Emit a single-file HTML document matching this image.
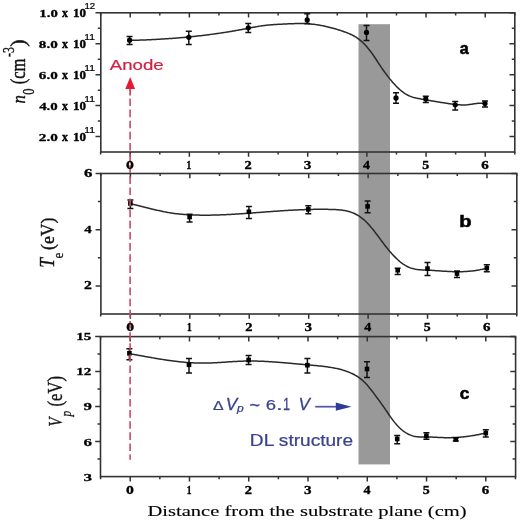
<!DOCTYPE html>
<html><head><meta charset="utf-8"><style>
html,body{margin:0;padding:0;background:#fff;}
svg{display:block;}
#w{width:520px;height:523px;}
</style></head><body>
<div id="w"><svg width="520" height="523" viewBox="0 0 520 523">
<rect width="520" height="523" fill="#fff"/>
<rect x="358.5" y="24.2" width="31.5" height="440.2" fill="#999"/>
<rect x="100.8" y="12.8" width="414.00" height="139.20" fill="none" stroke="#333" stroke-width="1.6"/>
<path d="M100.61,12.8v2.6 M100.61,152.0v2.6 M130.20,12.8v4.8 M130.20,152.0v4.8 M159.78,12.8v2.6 M159.78,152.0v2.6 M189.37,12.8v4.8 M189.37,152.0v4.8 M218.95,12.8v2.6 M218.95,152.0v2.6 M248.54,12.8v4.8 M248.54,152.0v4.8 M278.12,12.8v2.6 M278.12,152.0v2.6 M307.71,12.8v4.8 M307.71,152.0v4.8 M337.29,12.8v2.6 M337.29,152.0v2.6 M366.88,12.8v4.8 M366.88,152.0v4.8 M396.46,12.8v2.6 M396.46,152.0v2.6 M426.05,12.8v4.8 M426.05,152.0v4.8 M455.63,12.8v2.6 M455.63,152.0v2.6 M485.22,12.8v4.8 M485.22,152.0v4.8 M514.81,12.8v2.6 M514.81,152.0v2.6 M100.8,12.80h-5.3 M514.8,12.80h-5.3 M100.8,43.74h-5.3 M514.8,43.74h-5.3 M100.8,74.68h-5.3 M514.8,74.68h-5.3 M100.8,105.62h-5.3 M514.8,105.62h-5.3 M100.8,136.56h-5.3 M514.8,136.56h-5.3 M100.8,28.27h-3 M514.8,28.27h-3 M100.8,59.21h-3 M514.8,59.21h-3 M100.8,90.15h-3 M514.8,90.15h-3 M100.8,121.09h-3 M514.8,121.09h-3" stroke="#333" stroke-width="1.5" fill="none"/>
<rect x="100.9" y="173.5" width="415.90" height="140.50" fill="none" stroke="#333" stroke-width="1.6"/>
<path d="M100.69,173.5v2.6 M100.69,314.0v2.6 M130.40,173.5v4.8 M130.40,314.0v4.8 M160.12,173.5v2.6 M160.12,314.0v2.6 M189.83,173.5v4.8 M189.83,314.0v4.8 M219.55,173.5v2.6 M219.55,314.0v2.6 M249.26,173.5v4.8 M249.26,314.0v4.8 M278.98,173.5v2.6 M278.98,314.0v2.6 M308.69,173.5v4.8 M308.69,314.0v4.8 M338.40,173.5v2.6 M338.40,314.0v2.6 M368.12,173.5v4.8 M368.12,314.0v4.8 M397.84,173.5v2.6 M397.84,314.0v2.6 M427.55,173.5v4.8 M427.55,314.0v4.8 M457.26,173.5v2.6 M457.26,314.0v2.6 M486.98,173.5v4.8 M486.98,314.0v4.8 M516.70,173.5v2.6 M516.70,314.0v2.6 M100.9,173.50h-5.3 M516.8,173.50h-5.3 M100.9,229.70h-5.3 M516.8,229.70h-5.3 M100.9,285.90h-5.3 M516.8,285.90h-5.3 M100.9,201.60h-3 M516.8,201.60h-3 M100.9,257.80h-3 M516.8,257.80h-3" stroke="#333" stroke-width="1.5" fill="none"/>
<rect x="100.5" y="336.6" width="415.10" height="140.00" fill="none" stroke="#333" stroke-width="1.6"/>
<path d="M100.56,336.6v2.6 M100.56,476.6v2.6 M130.20,336.6v4.8 M130.20,476.6v4.8 M159.83,336.6v2.6 M159.83,476.6v2.6 M189.47,336.6v4.8 M189.47,476.6v4.8 M219.10,336.6v2.6 M219.10,476.6v2.6 M248.74,336.6v4.8 M248.74,476.6v4.8 M278.38,336.6v2.6 M278.38,476.6v2.6 M308.01,336.6v4.8 M308.01,476.6v4.8 M337.64,336.6v2.6 M337.64,476.6v2.6 M367.28,336.6v4.8 M367.28,476.6v4.8 M396.92,336.6v2.6 M396.92,476.6v2.6 M426.55,336.6v4.8 M426.55,476.6v4.8 M456.19,336.6v2.6 M456.19,476.6v2.6 M485.82,336.6v4.8 M485.82,476.6v4.8 M515.45,336.6v2.6 M515.45,476.6v2.6 M100.5,336.60h-5.3 M515.6,336.60h-5.3 M100.5,371.60h-5.3 M515.6,371.60h-5.3 M100.5,406.60h-5.3 M515.6,406.60h-5.3 M100.5,441.60h-5.3 M515.6,441.60h-5.3 M100.5,354.10h-3 M515.6,354.10h-3 M100.5,389.10h-3 M515.6,389.10h-3 M100.5,424.10h-3 M515.6,424.10h-3 M100.5,459.10h-3 M515.6,459.10h-3" stroke="#333" stroke-width="1.5" fill="none"/>
<path d="M130.0,40.40 L131.0,40.38 L132.0,40.35 L133.0,40.32 L134.0,40.30 L135.0,40.27 L136.0,40.24 L137.0,40.21 L138.0,40.18 L139.0,40.14 L140.0,40.11 L141.0,40.07 L142.0,40.04 L143.0,40.00 L144.0,39.96 L145.0,39.92 L146.0,39.88 L147.0,39.84 L148.0,39.79 L149.0,39.75 L150.0,39.70 L151.0,39.66 L152.0,39.61 L153.0,39.56 L154.0,39.51 L155.0,39.46 L156.0,39.40 L157.0,39.35 L158.0,39.29 L159.0,39.24 L160.0,39.18 L161.0,39.12 L162.0,39.06 L163.0,39.00 L164.0,38.93 L165.0,38.87 L166.0,38.80 L167.0,38.74 L168.0,38.67 L169.0,38.60 L170.0,38.53 L171.0,38.46 L172.0,38.38 L173.0,38.31 L174.0,38.23 L175.0,38.15 L176.0,38.07 L177.0,37.99 L178.0,37.91 L179.0,37.83 L180.0,37.74 L181.0,37.66 L182.0,37.57 L183.0,37.48 L184.0,37.39 L185.0,37.30 L186.0,37.20 L187.0,37.11 L188.0,37.01 L189.0,36.92 L190.0,36.82 L191.0,36.72 L192.0,36.61 L193.0,36.51 L194.0,36.40 L195.0,36.30 L196.0,36.19 L197.0,36.08 L198.0,35.97 L199.0,35.86 L200.0,35.74 L201.0,35.63 L202.0,35.51 L203.0,35.39 L204.0,35.27 L205.0,35.15 L206.0,35.02 L207.0,34.90 L208.0,34.77 L209.0,34.64 L210.0,34.51 L211.0,34.38 L212.0,34.25 L213.0,34.12 L214.0,33.98 L215.0,33.84 L216.0,33.70 L217.0,33.56 L218.0,33.42 L219.0,33.27 L220.0,33.13 L221.0,32.98 L222.0,32.83 L223.0,32.68 L224.0,32.52 L225.0,32.37 L226.0,32.21 L227.0,32.05 L228.0,31.89 L229.0,31.73 L230.0,31.57 L231.0,31.40 L232.0,31.24 L233.0,31.07 L234.0,30.90 L235.0,30.72 L236.0,30.55 L237.0,30.37 L238.0,30.20 L239.0,30.02 L240.0,29.84 L241.0,29.65 L242.0,29.47 L243.0,29.28 L244.0,29.09 L245.0,28.90 L246.0,28.71 L247.0,28.52 L248.0,28.32 L249.0,28.13 L250.0,27.93 L251.0,27.74 L252.0,27.55 L253.0,27.36 L254.0,27.17 L255.0,26.99 L256.0,26.81 L257.0,26.63 L258.0,26.46 L259.0,26.29 L260.0,26.13 L261.0,25.98 L262.0,25.83 L263.0,25.69 L264.0,25.55 L265.0,25.43 L266.0,25.31 L267.0,25.20 L268.0,25.10 L269.0,25.00 L270.0,24.91 L271.0,24.82 L272.0,24.74 L273.0,24.66 L274.0,24.59 L275.0,24.52 L276.0,24.46 L277.0,24.40 L278.0,24.34 L279.0,24.29 L280.0,24.23 L281.0,24.19 L282.0,24.14 L283.0,24.09 L284.0,24.05 L285.0,24.00 L286.0,23.96 L287.0,23.91 L288.0,23.87 L289.0,23.83 L290.0,23.79 L291.0,23.75 L292.0,23.71 L293.0,23.68 L294.0,23.65 L295.0,23.62 L296.0,23.60 L297.0,23.58 L298.0,23.56 L299.0,23.56 L300.0,23.55 L301.0,23.56 L302.0,23.57 L303.0,23.59 L304.0,23.62 L305.0,23.65 L306.0,23.69 L307.0,23.75 L308.0,23.81 L309.0,23.88 L310.0,23.96 L311.0,24.05 L312.0,24.15 L313.0,24.26 L314.0,24.37 L315.0,24.50 L316.0,24.63 L317.0,24.78 L318.0,24.93 L319.0,25.09 L320.0,25.26 L321.0,25.44 L322.0,25.62 L323.0,25.82 L324.0,26.02 L325.0,26.23 L326.0,26.45 L327.0,26.68 L328.0,26.91 L329.0,27.15 L330.0,27.40 L331.0,27.66 L332.0,27.93 L333.0,28.20 L334.0,28.48 L335.0,28.77 L336.0,29.06 L337.0,29.37 L338.0,29.67 L339.0,29.99 L340.0,30.31 L341.0,30.64 L342.0,30.98 L343.0,31.32 L344.0,31.67 L345.0,32.03 L346.0,32.40 L347.0,32.77 L348.0,33.17 L349.0,33.58 L350.0,34.01 L351.0,34.46 L352.0,34.95 L353.0,35.46 L354.0,36.00 L355.0,36.58 L356.0,37.19 L357.0,37.85 L358.0,38.55 L359.0,39.29 L360.0,40.08 L361.0,40.93 L362.0,41.82 L363.0,42.76 L364.0,43.75 L365.0,44.79 L366.0,45.87 L367.0,47.00 L368.0,48.18 L369.0,49.41 L370.0,50.68 L371.0,52.00 L372.0,53.36 L373.0,54.77 L374.0,56.23 L375.0,57.72 L376.0,59.23 L377.0,60.77 L378.0,62.30 L379.0,63.84 L380.0,65.36 L381.0,66.87 L382.0,68.34 L383.0,69.79 L384.0,71.21 L385.0,72.60 L386.0,73.96 L387.0,75.29 L388.0,76.59 L389.0,77.87 L390.0,79.11 L391.0,80.32 L392.0,81.50 L393.0,82.65 L394.0,83.76 L395.0,84.85 L396.0,85.90 L397.0,86.92 L398.0,87.90 L399.0,88.85 L400.0,89.75 L401.0,90.61 L402.0,91.42 L403.0,92.19 L404.0,92.90 L405.0,93.56 L406.0,94.17 L407.0,94.72 L408.0,95.23 L409.0,95.69 L410.0,96.11 L411.0,96.49 L412.0,96.84 L413.0,97.16 L414.0,97.45 L415.0,97.71 L416.0,97.96 L417.0,98.18 L418.0,98.40 L419.0,98.60 L420.0,98.80 L421.0,98.99 L422.0,99.18 L423.0,99.36 L424.0,99.55 L425.0,99.73 L426.0,99.91 L427.0,100.09 L428.0,100.26 L429.0,100.43 L430.0,100.60 L431.0,100.77 L432.0,100.94 L433.0,101.10 L434.0,101.27 L435.0,101.43 L436.0,101.59 L437.0,101.75 L438.0,101.91 L439.0,102.07 L440.0,102.23 L441.0,102.39 L442.0,102.55 L443.0,102.70 L444.0,102.86 L445.0,103.02 L446.0,103.18 L447.0,103.34 L448.0,103.49 L449.0,103.64 L450.0,103.79 L451.0,103.94 L452.0,104.08 L453.0,104.21 L454.0,104.33 L455.0,104.45 L456.0,104.56 L457.0,104.65 L458.0,104.74 L459.0,104.81 L460.0,104.87 L461.0,104.91 L462.0,104.94 L463.0,104.95 L464.0,104.95 L465.0,104.92 L466.0,104.88 L467.0,104.82 L468.0,104.73 L469.0,104.62 L470.0,104.49 L471.0,104.35 L472.0,104.19 L473.0,104.03 L474.0,103.86 L475.0,103.70 L476.0,103.55 L477.0,103.42 L478.0,103.31 L479.0,103.23 L480.0,103.18 L481.0,103.16 L482.0,103.19 L483.0,103.27 L484.0,103.40 L485.0,103.59" stroke="#2a2a2a" stroke-width="1.5" fill="none"/>
<path d="M130.8,203.80 L131.8,204.02 L132.8,204.25 L133.8,204.49 L134.8,204.72 L135.8,204.96 L136.8,205.20 L137.8,205.44 L138.8,205.69 L139.8,205.94 L140.8,206.19 L141.8,206.44 L142.8,206.69 L143.8,206.94 L144.8,207.19 L145.8,207.44 L146.8,207.70 L147.8,207.95 L148.8,208.20 L149.8,208.45 L150.8,208.70 L151.8,208.95 L152.8,209.19 L153.8,209.43 L154.8,209.67 L155.8,209.91 L156.8,210.15 L157.8,210.38 L158.8,210.60 L159.8,210.83 L160.8,211.05 L161.8,211.26 L162.8,211.47 L163.8,211.68 L164.8,211.88 L165.8,212.07 L166.8,212.26 L167.8,212.44 L168.8,212.62 L169.8,212.78 L170.8,212.95 L171.8,213.10 L172.8,213.25 L173.8,213.39 L174.8,213.52 L175.8,213.64 L176.8,213.76 L177.8,213.87 L178.8,213.98 L179.8,214.08 L180.8,214.18 L181.8,214.27 L182.8,214.35 L183.8,214.43 L184.8,214.50 L185.8,214.57 L186.8,214.64 L187.8,214.70 L188.8,214.75 L189.8,214.80 L190.8,214.85 L191.8,214.90 L192.8,214.94 L193.8,214.98 L194.8,215.01 L195.8,215.04 L196.8,215.07 L197.8,215.09 L198.8,215.11 L199.8,215.13 L200.8,215.15 L201.8,215.16 L202.8,215.16 L203.8,215.17 L204.8,215.17 L205.8,215.17 L206.8,215.17 L207.8,215.16 L208.8,215.15 L209.8,215.14 L210.8,215.13 L211.8,215.11 L212.8,215.09 L213.8,215.07 L214.8,215.04 L215.8,215.02 L216.8,214.99 L217.8,214.96 L218.8,214.92 L219.8,214.89 L220.8,214.85 L221.8,214.81 L222.8,214.77 L223.8,214.73 L224.8,214.68 L225.8,214.64 L226.8,214.59 L227.8,214.54 L228.8,214.49 L229.8,214.43 L230.8,214.38 L231.8,214.32 L232.8,214.26 L233.8,214.21 L234.8,214.15 L235.8,214.08 L236.8,214.02 L237.8,213.96 L238.8,213.89 L239.8,213.83 L240.8,213.76 L241.8,213.69 L242.8,213.63 L243.8,213.56 L244.8,213.49 L245.8,213.42 L246.8,213.35 L247.8,213.27 L248.8,213.20 L249.8,213.13 L250.8,213.06 L251.8,212.98 L252.8,212.91 L253.8,212.84 L254.8,212.76 L255.8,212.69 L256.8,212.61 L257.8,212.54 L258.8,212.46 L259.8,212.39 L260.8,212.31 L261.8,212.24 L262.8,212.16 L263.8,212.09 L264.8,212.01 L265.8,211.94 L266.8,211.86 L267.8,211.79 L268.8,211.71 L269.8,211.64 L270.8,211.57 L271.8,211.49 L272.8,211.42 L273.8,211.35 L274.8,211.28 L275.8,211.21 L276.8,211.14 L277.8,211.07 L278.8,211.00 L279.8,210.93 L280.8,210.86 L281.8,210.80 L282.8,210.73 L283.8,210.67 L284.8,210.60 L285.8,210.54 L286.8,210.48 L287.8,210.42 L288.8,210.36 L289.8,210.30 L290.8,210.24 L291.8,210.19 L292.8,210.13 L293.8,210.08 L294.8,210.03 L295.8,209.98 L296.8,209.93 L297.8,209.88 L298.8,209.83 L299.8,209.79 L300.8,209.75 L301.8,209.71 L302.8,209.67 L303.8,209.63 L304.8,209.59 L305.8,209.56 L306.8,209.53 L307.8,209.50 L308.8,209.47 L309.8,209.44 L310.8,209.42 L311.8,209.40 L312.8,209.38 L313.8,209.36 L314.8,209.34 L315.8,209.33 L316.8,209.32 L317.8,209.31 L318.8,209.30 L319.8,209.30 L320.8,209.30 L321.8,209.30 L322.8,209.30 L323.8,209.31 L324.8,209.31 L325.8,209.33 L326.8,209.34 L327.8,209.36 L328.8,209.38 L329.8,209.40 L330.8,209.42 L331.8,209.45 L332.8,209.48 L333.8,209.52 L334.8,209.56 L335.8,209.60 L336.8,209.66 L337.8,209.72 L338.8,209.80 L339.8,209.88 L340.8,209.99 L341.8,210.10 L342.8,210.24 L343.8,210.39 L344.8,210.56 L345.8,210.76 L346.8,210.98 L347.8,211.22 L348.8,211.49 L349.8,211.78 L350.8,212.11 L351.8,212.46 L352.8,212.85 L353.8,213.27 L354.8,213.73 L355.8,214.22 L356.8,214.76 L357.8,215.33 L358.8,215.94 L359.8,216.59 L360.8,217.29 L361.8,218.04 L362.8,218.83 L363.8,219.67 L364.8,220.56 L365.8,221.50 L366.8,222.50 L367.8,223.54 L368.8,224.62 L369.8,225.75 L370.8,226.91 L371.8,228.11 L372.8,229.33 L373.8,230.59 L374.8,231.87 L375.8,233.17 L376.8,234.48 L377.8,235.81 L378.8,237.15 L379.8,238.50 L380.8,239.85 L381.8,241.20 L382.8,242.55 L383.8,243.89 L384.8,245.21 L385.8,246.52 L386.8,247.80 L387.8,249.05 L388.8,250.27 L389.8,251.46 L390.8,252.61 L391.8,253.73 L392.8,254.82 L393.8,255.87 L394.8,256.89 L395.8,257.87 L396.8,258.83 L397.8,259.75 L398.8,260.63 L399.8,261.48 L400.8,262.29 L401.8,263.06 L402.8,263.79 L403.8,264.47 L404.8,265.10 L405.8,265.69 L406.8,266.23 L407.8,266.74 L408.8,267.19 L409.8,267.61 L410.8,267.98 L411.8,268.31 L412.8,268.60 L413.8,268.85 L414.8,269.07 L415.8,269.26 L416.8,269.42 L417.8,269.56 L418.8,269.67 L419.8,269.77 L420.8,269.84 L421.8,269.91 L422.8,269.96 L423.8,270.00 L424.8,270.04 L425.8,270.08 L426.8,270.11 L427.8,270.15 L428.8,270.20 L429.8,270.25 L430.8,270.30 L431.8,270.36 L432.8,270.42 L433.8,270.49 L434.8,270.56 L435.8,270.63 L436.8,270.70 L437.8,270.77 L438.8,270.85 L439.8,270.92 L440.8,270.99 L441.8,271.06 L442.8,271.13 L443.8,271.19 L444.8,271.25 L445.8,271.31 L446.8,271.37 L447.8,271.42 L448.8,271.47 L449.8,271.52 L450.8,271.56 L451.8,271.59 L452.8,271.63 L453.8,271.65 L454.8,271.68 L455.8,271.69 L456.8,271.70 L457.8,271.71 L458.8,271.71 L459.8,271.70 L460.8,271.68 L461.8,271.66 L462.8,271.63 L463.8,271.60 L464.8,271.55 L465.8,271.50 L466.8,271.44 L467.8,271.37 L468.8,271.30 L469.8,271.21 L470.8,271.12 L471.8,271.01 L472.8,270.90 L473.8,270.77 L474.8,270.64 L475.8,270.49 L476.8,270.34 L477.8,270.17 L478.8,269.99 L479.8,269.81 L480.8,269.60 L481.8,269.39 L482.8,269.17 L483.8,268.93 L484.8,268.68 L485.8,268.42 L486.8,268.14 L487.0,268.08" stroke="#2a2a2a" stroke-width="1.5" fill="none"/>
<path d="M130.0,353.80 L131.0,353.97 L132.0,354.15 L133.0,354.32 L134.0,354.50 L135.0,354.68 L136.0,354.85 L137.0,355.03 L138.0,355.21 L139.0,355.39 L140.0,355.57 L141.0,355.75 L142.0,355.93 L143.0,356.11 L144.0,356.29 L145.0,356.47 L146.0,356.65 L147.0,356.82 L148.0,357.00 L149.0,357.18 L150.0,357.35 L151.0,357.53 L152.0,357.71 L153.0,357.88 L154.0,358.05 L155.0,358.22 L156.0,358.39 L157.0,358.56 L158.0,358.73 L159.0,358.89 L160.0,359.06 L161.0,359.22 L162.0,359.38 L163.0,359.54 L164.0,359.69 L165.0,359.85 L166.0,360.00 L167.0,360.15 L168.0,360.29 L169.0,360.44 L170.0,360.58 L171.0,360.72 L172.0,360.85 L173.0,360.98 L174.0,361.11 L175.0,361.24 L176.0,361.36 L177.0,361.48 L178.0,361.60 L179.0,361.71 L180.0,361.82 L181.0,361.93 L182.0,362.03 L183.0,362.12 L184.0,362.22 L185.0,362.31 L186.0,362.39 L187.0,362.47 L188.0,362.55 L189.0,362.62 L190.0,362.69 L191.0,362.75 L192.0,362.81 L193.0,362.86 L194.0,362.91 L195.0,362.95 L196.0,362.99 L197.0,363.02 L198.0,363.05 L199.0,363.07 L200.0,363.09 L201.0,363.10 L202.0,363.10 L203.0,363.10 L204.0,363.09 L205.0,363.08 L206.0,363.07 L207.0,363.04 L208.0,363.02 L209.0,362.99 L210.0,362.95 L211.0,362.92 L212.0,362.88 L213.0,362.83 L214.0,362.78 L215.0,362.73 L216.0,362.68 L217.0,362.63 L218.0,362.57 L219.0,362.51 L220.0,362.45 L221.0,362.39 L222.0,362.32 L223.0,362.26 L224.0,362.20 L225.0,362.13 L226.0,362.07 L227.0,362.00 L228.0,361.94 L229.0,361.87 L230.0,361.81 L231.0,361.74 L232.0,361.68 L233.0,361.62 L234.0,361.56 L235.0,361.51 L236.0,361.45 L237.0,361.40 L238.0,361.35 L239.0,361.30 L240.0,361.26 L241.0,361.22 L242.0,361.18 L243.0,361.15 L244.0,361.12 L245.0,361.09 L246.0,361.07 L247.0,361.06 L248.0,361.04 L249.0,361.04 L250.0,361.03 L251.0,361.03 L252.0,361.04 L253.0,361.05 L254.0,361.06 L255.0,361.07 L256.0,361.09 L257.0,361.12 L258.0,361.14 L259.0,361.17 L260.0,361.21 L261.0,361.24 L262.0,361.28 L263.0,361.32 L264.0,361.37 L265.0,361.42 L266.0,361.47 L267.0,361.52 L268.0,361.57 L269.0,361.63 L270.0,361.69 L271.0,361.76 L272.0,361.82 L273.0,361.89 L274.0,361.96 L275.0,362.03 L276.0,362.10 L277.0,362.18 L278.0,362.25 L279.0,362.33 L280.0,362.41 L281.0,362.49 L282.0,362.57 L283.0,362.65 L284.0,362.74 L285.0,362.82 L286.0,362.91 L287.0,363.00 L288.0,363.09 L289.0,363.18 L290.0,363.27 L291.0,363.36 L292.0,363.45 L293.0,363.54 L294.0,363.63 L295.0,363.72 L296.0,363.81 L297.0,363.90 L298.0,364.00 L299.0,364.09 L300.0,364.18 L301.0,364.27 L302.0,364.36 L303.0,364.45 L304.0,364.54 L305.0,364.63 L306.0,364.72 L307.0,364.81 L308.0,364.90 L309.0,364.99 L310.0,365.08 L311.0,365.16 L312.0,365.25 L313.0,365.34 L314.0,365.43 L315.0,365.53 L316.0,365.62 L317.0,365.71 L318.0,365.81 L319.0,365.91 L320.0,366.02 L321.0,366.12 L322.0,366.24 L323.0,366.35 L324.0,366.47 L325.0,366.59 L326.0,366.72 L327.0,366.85 L328.0,366.99 L329.0,367.14 L330.0,367.29 L331.0,367.45 L332.0,367.62 L333.0,367.79 L334.0,367.97 L335.0,368.17 L336.0,368.37 L337.0,368.59 L338.0,368.81 L339.0,369.05 L340.0,369.30 L341.0,369.56 L342.0,369.84 L343.0,370.14 L344.0,370.44 L345.0,370.77 L346.0,371.11 L347.0,371.47 L348.0,371.84 L349.0,372.24 L350.0,372.65 L351.0,373.08 L352.0,373.54 L353.0,374.02 L354.0,374.53 L355.0,375.06 L356.0,375.64 L357.0,376.24 L358.0,376.89 L359.0,377.58 L360.0,378.31 L361.0,379.08 L362.0,379.91 L363.0,380.79 L364.0,381.72 L365.0,382.71 L366.0,383.76 L367.0,384.87 L368.0,386.02 L369.0,387.22 L370.0,388.45 L371.0,389.72 L372.0,391.01 L373.0,392.32 L374.0,393.65 L375.0,394.99 L376.0,396.34 L377.0,397.69 L378.0,399.05 L379.0,400.42 L380.0,401.80 L381.0,403.18 L382.0,404.58 L383.0,405.99 L384.0,407.42 L385.0,408.86 L386.0,410.32 L387.0,411.78 L388.0,413.25 L389.0,414.71 L390.0,416.15 L391.0,417.57 L392.0,418.96 L393.0,420.32 L394.0,421.62 L395.0,422.88 L396.0,424.07 L397.0,425.21 L398.0,426.28 L399.0,427.30 L400.0,428.26 L401.0,429.16 L402.0,430.00 L403.0,430.80 L404.0,431.54 L405.0,432.22 L406.0,432.86 L407.0,433.44 L408.0,433.98 L409.0,434.46 L410.0,434.90 L411.0,435.29 L412.0,435.64 L413.0,435.94 L414.0,436.20 L415.0,436.41 L416.0,436.58 L417.0,436.72 L418.0,436.82 L419.0,436.90 L420.0,436.95 L421.0,436.98 L422.0,436.99 L423.0,436.99 L424.0,436.99 L425.0,436.99 L426.0,436.99 L427.0,436.99 L428.0,437.00 L429.0,437.02 L430.0,437.05 L431.0,437.08 L432.0,437.12 L433.0,437.16 L434.0,437.21 L435.0,437.25 L436.0,437.30 L437.0,437.35 L438.0,437.40 L439.0,437.45 L440.0,437.49 L441.0,437.53 L442.0,437.57 L443.0,437.61 L444.0,437.63 L445.0,437.66 L446.0,437.67 L447.0,437.68 L448.0,437.68 L449.0,437.68 L450.0,437.66 L451.0,437.64 L452.0,437.62 L453.0,437.58 L454.0,437.54 L455.0,437.50 L456.0,437.44 L457.0,437.38 L458.0,437.32 L459.0,437.24 L460.0,437.16 L461.0,437.08 L462.0,436.99 L463.0,436.89 L464.0,436.78 L465.0,436.67 L466.0,436.55 L467.0,436.43 L468.0,436.30 L469.0,436.16 L470.0,436.02 L471.0,435.87 L472.0,435.72 L473.0,435.56 L474.0,435.39 L475.0,435.22 L476.0,435.04 L477.0,434.86 L478.0,434.67 L479.0,434.47 L480.0,434.27 L481.0,434.06 L482.0,433.85 L483.0,433.63 L484.0,433.41 L485.0,433.18 L485.8,433.00" stroke="#2a2a2a" stroke-width="1.5" fill="none"/>
<path d="M129.60,36.60V44.60M126.60,36.60h6M126.60,44.60h6 M188.80,31.30V44.40M185.80,31.30h6M185.80,44.40h6 M248.30,23.60V32.60M245.30,23.60h6M245.30,32.60h6 M307.20,13.80V23.40M304.20,13.80h6M304.20,23.40h6 M366.50,25.60V40.50M363.50,25.60h6M363.50,40.50h6 M396.00,92.80V103.20M393.00,92.80h6M393.00,103.20h6 M425.80,96.30V102.60M422.80,96.30h6M422.80,102.60h6 M455.20,101.50V110.10M452.20,101.50h6M452.20,110.10h6 M485.00,100.90V107.10M482.00,100.90h6M482.00,107.10h6" stroke="#111" stroke-width="1.5" fill="none"/>
<circle cx="129.60" cy="40.20" r="2.6" fill="#000"/>
<circle cx="188.80" cy="37.30" r="2.6" fill="#000"/>
<circle cx="248.30" cy="27.80" r="2.6" fill="#000"/>
<circle cx="307.20" cy="19.90" r="2.6" fill="#000"/>
<circle cx="366.50" cy="32.40" r="2.6" fill="#000"/>
<circle cx="396.00" cy="97.90" r="2.6" fill="#000"/>
<circle cx="425.80" cy="98.90" r="2.6" fill="#000"/>
<circle cx="455.20" cy="104.80" r="2.6" fill="#000"/>
<circle cx="485.00" cy="103.60" r="2.6" fill="#000"/>
<path d="M130.40,199.90V208.50M127.40,199.90h6M127.40,208.50h6 M189.60,214.20V222.10M186.60,214.20h6M186.60,222.10h6 M248.90,206.40V218.60M245.90,206.40h6M245.90,218.60h6 M308.30,205.70V213.70M305.30,205.70h6M305.30,213.70h6 M367.60,201.00V212.80M364.60,201.00h6M364.60,212.80h6 M397.70,268.20V274.40M394.70,268.20h6M394.70,274.40h6 M427.50,262.60V275.40M424.50,262.60h6M424.50,275.40h6 M457.00,271.10V277.60M454.00,271.10h6M454.00,277.60h6 M486.80,264.80V271.80M483.80,264.80h6M483.80,271.80h6" stroke="#111" stroke-width="1.5" fill="none"/>
<rect x="128.10" y="201.10" width="4.6" height="4.6" fill="#000"/>
<rect x="187.30" y="214.70" width="4.6" height="4.6" fill="#000"/>
<rect x="246.60" y="209.50" width="4.6" height="4.6" fill="#000"/>
<rect x="306.00" y="207.10" width="4.6" height="4.6" fill="#000"/>
<rect x="365.30" y="204.10" width="4.6" height="4.6" fill="#000"/>
<rect x="395.40" y="267.90" width="4.6" height="4.6" fill="#000"/>
<rect x="425.20" y="266.30" width="4.6" height="4.6" fill="#000"/>
<rect x="454.70" y="271.20" width="4.6" height="4.6" fill="#000"/>
<rect x="484.50" y="265.80" width="4.6" height="4.6" fill="#000"/>
<path d="M129.40,348.80V359.80M126.40,348.80h6M126.40,359.80h6 M189.00,358.60V373.00M186.00,358.60h6M186.00,373.00h6 M248.60,355.60V364.40M245.60,355.60h6M245.60,364.40h6 M307.40,358.60V373.00M304.40,358.60h6M304.40,373.00h6 M367.00,361.70V377.40M364.00,361.70h6M364.00,377.40h6 M397.20,435.50V443.80M394.20,435.50h6M394.20,443.80h6 M426.40,432.70V439.20M423.40,432.70h6M423.40,439.20h6 M455.80,437.90V441.00M452.80,437.90h6M452.80,441.00h6 M485.80,429.70V437.10M482.80,429.70h6M482.80,437.10h6" stroke="#111" stroke-width="1.5" fill="none"/>
<rect x="127.10" y="351.00" width="4.6" height="4.6" fill="#000"/>
<rect x="186.70" y="362.50" width="4.6" height="4.6" fill="#000"/>
<rect x="246.30" y="357.70" width="4.6" height="4.6" fill="#000"/>
<rect x="305.10" y="362.90" width="4.6" height="4.6" fill="#000"/>
<rect x="364.70" y="366.70" width="4.6" height="4.6" fill="#000"/>
<rect x="394.90" y="436.70" width="4.6" height="4.6" fill="#000"/>
<rect x="424.10" y="433.60" width="4.6" height="4.6" fill="#000"/>
<rect x="453.50" y="437.10" width="4.6" height="4.6" fill="#000"/>
<rect x="483.50" y="430.80" width="4.6" height="4.6" fill="#000"/>
<path d="M130.1,98.4 V459.8" stroke="#cc4a62" stroke-width="1.6" stroke-dasharray="7.6 3.53" fill="none"/>
<path d="M130.1,87 V95.6" stroke="#cc4a62" stroke-width="1.8" fill="none"/>
<path d="M125.3,89.0 L130.2,76.9 L135.1,89.0 Z" fill="#e41a2e"/>
<path d="M315.3,406.7 H337" stroke="#4f55a8" stroke-width="1.7" fill="none"/>
<path d="M335.8,402.6 L351.4,406.7 L335.8,410.8 Z" fill="#2e3c98"/>
<text transform="translate(459.72,53.73) scale(0.961,1)" font-family='"Liberation Sans",sans-serif' font-weight="bold" font-style="normal" font-size="16.73" fill="#000" stroke="#000" stroke-width="0.60" >a</text>
<text transform="translate(459.19,227.14) scale(1.227,1)" font-family='"Liberation Sans",sans-serif' font-weight="bold" font-style="normal" font-size="16.46" fill="#000" stroke="#000" stroke-width="0.49" >b</text>
<text transform="translate(459.71,399.24) scale(1.095,1)" font-family='"Liberation Sans",sans-serif' font-weight="bold" font-style="normal" font-size="15.82" fill="#000" stroke="#000" stroke-width="0.55" >c</text>
<text transform="translate(109.80,69.86) scale(1.304,1)" font-family='"Liberation Sans",sans-serif' font-weight="normal" font-style="normal" font-size="14.29" fill="#d42040" stroke="#d42040" stroke-width="0.19" >Anode</text>
<text transform="translate(249.87,446.14) scale(1.216,1)" font-family='"Liberation Sans",sans-serif' font-weight="normal" font-style="normal" font-size="15.71" fill="#3a4290" stroke="#3a4290" stroke-width="0.21" >DL structure</text>
<text transform="translate(147.38,516.27) scale(1.372,1)" font-family='"Liberation Serif",serif' font-weight="normal" font-style="normal" font-size="15.00" fill="#000" stroke="#000" stroke-width="0.11" >Distance from the substrate plane (cm)</text>
<text transform="translate(125.97,168.64) scale(1.378,1)" font-family='"Liberation Serif",serif' font-weight="bold" font-style="normal" font-size="11.41" fill="#000" stroke="#000" stroke-width="0.29" >0</text>
<text transform="translate(186.56,168.75) scale(0.811,1)" font-family='"Liberation Serif",serif' font-weight="bold" font-style="normal" font-size="11.67" fill="#000" stroke="#000" stroke-width="0.40" >1</text>
<text transform="translate(244.61,168.75) scale(1.245,1)" font-family='"Liberation Serif",serif' font-weight="bold" font-style="normal" font-size="11.67" fill="#000" stroke="#000" stroke-width="0.32" >2</text>
<text transform="translate(303.63,168.64) scale(1.315,1)" font-family='"Liberation Serif",serif' font-weight="bold" font-style="normal" font-size="11.49" fill="#000" stroke="#000" stroke-width="0.30" >3</text>
<text transform="translate(363.12,168.75) scale(1.198,1)" font-family='"Liberation Serif",serif' font-weight="bold" font-style="normal" font-size="11.67" fill="#000" stroke="#000" stroke-width="0.33" >4</text>
<text transform="translate(422.24,168.63) scale(1.199,1)" font-family='"Liberation Serif",serif' font-weight="bold" font-style="normal" font-size="11.58" fill="#000" stroke="#000" stroke-width="0.33" >5</text>
<text transform="translate(481.15,168.64) scale(1.300,1)" font-family='"Liberation Serif",serif' font-weight="bold" font-style="normal" font-size="11.49" fill="#000" stroke="#000" stroke-width="0.31" >6</text>
<text transform="translate(126.17,330.53) scale(1.263,1)" font-family='"Liberation Serif",serif' font-weight="bold" font-style="normal" font-size="12.44" fill="#000" stroke="#000" stroke-width="0.32" >0</text>
<text transform="translate(187.02,330.65) scale(0.743,1)" font-family='"Liberation Serif",serif' font-weight="bold" font-style="normal" font-size="12.73" fill="#000" stroke="#000" stroke-width="0.40" >1</text>
<text transform="translate(245.33,330.65) scale(1.141,1)" font-family='"Liberation Serif",serif' font-weight="bold" font-style="normal" font-size="12.73" fill="#000" stroke="#000" stroke-width="0.35" >2</text>
<text transform="translate(304.61,330.52) scale(1.206,1)" font-family='"Liberation Serif",serif' font-weight="bold" font-style="normal" font-size="12.54" fill="#000" stroke="#000" stroke-width="0.33" >3</text>
<text transform="translate(364.36,330.65) scale(1.098,1)" font-family='"Liberation Serif",serif' font-weight="bold" font-style="normal" font-size="12.73" fill="#000" stroke="#000" stroke-width="0.36" >4</text>
<text transform="translate(423.74,330.52) scale(1.099,1)" font-family='"Liberation Serif",serif' font-weight="bold" font-style="normal" font-size="12.63" fill="#000" stroke="#000" stroke-width="0.36" >5</text>
<text transform="translate(482.91,330.52) scale(1.192,1)" font-family='"Liberation Serif",serif' font-weight="bold" font-style="normal" font-size="12.54" fill="#000" stroke="#000" stroke-width="0.34" >6</text>
<text transform="translate(125.97,494.02) scale(1.205,1)" font-family='"Liberation Serif",serif' font-weight="bold" font-style="normal" font-size="13.04" fill="#000" stroke="#000" stroke-width="0.33" >0</text>
<text transform="translate(186.66,494.15) scale(0.709,1)" font-family='"Liberation Serif",serif' font-weight="bold" font-style="normal" font-size="13.33" fill="#000" stroke="#000" stroke-width="0.40" >1</text>
<text transform="translate(244.81,494.15) scale(1.089,1)" font-family='"Liberation Serif",serif' font-weight="bold" font-style="normal" font-size="13.33" fill="#000" stroke="#000" stroke-width="0.37" >2</text>
<text transform="translate(303.93,494.02) scale(1.151,1)" font-family='"Liberation Serif",serif' font-weight="bold" font-style="normal" font-size="13.13" fill="#000" stroke="#000" stroke-width="0.35" >3</text>
<text transform="translate(363.52,494.15) scale(1.048,1)" font-family='"Liberation Serif",serif' font-weight="bold" font-style="normal" font-size="13.33" fill="#000" stroke="#000" stroke-width="0.38" >4</text>
<text transform="translate(422.74,494.02) scale(1.049,1)" font-family='"Liberation Serif",serif' font-weight="bold" font-style="normal" font-size="13.23" fill="#000" stroke="#000" stroke-width="0.38" >5</text>
<text transform="translate(481.75,494.02) scale(1.138,1)" font-family='"Liberation Serif",serif' font-weight="bold" font-style="normal" font-size="13.13" fill="#000" stroke="#000" stroke-width="0.35" >6</text>
<text transform="translate(39.32,17.23) scale(1.305,1)" font-family='"Liberation Serif",serif' font-weight="bold" font-style="normal" font-size="11.32" fill="#000" stroke="#000" stroke-width="0.31" >1.0</text>
<text transform="translate(61.94,17.40) scale(0.939,1)" font-family='"Liberation Serif",serif' font-weight="bold" font-style="normal" font-size="12.61" fill="#000" stroke="#000" stroke-width="0.40" >x</text>
<text transform="translate(72.95,17.29) scale(1.146,1)" font-family='"Liberation Serif",serif' font-weight="bold" font-style="normal" font-size="11.41" fill="#000" stroke="#000" stroke-width="0.35" >10</text>
<text transform="translate(84.38,9.20) scale(1.184,1)" font-family='"Liberation Sans",sans-serif' font-weight="normal" font-style="normal" font-size="8.14" fill="#000" stroke="#000" stroke-width="0.21" >12</text>
<text transform="translate(38.87,48.17) scale(1.338,1)" font-family='"Liberation Serif",serif' font-weight="bold" font-style="normal" font-size="11.32" fill="#000" stroke="#000" stroke-width="0.30" >8.0</text>
<text transform="translate(61.94,48.34) scale(0.939,1)" font-family='"Liberation Serif",serif' font-weight="bold" font-style="normal" font-size="12.61" fill="#000" stroke="#000" stroke-width="0.40" >x</text>
<text transform="translate(72.95,48.23) scale(1.146,1)" font-family='"Liberation Serif",serif' font-weight="bold" font-style="normal" font-size="11.41" fill="#000" stroke="#000" stroke-width="0.35" >10</text>
<text transform="translate(84.32,40.14) scale(1.257,1)" font-family='"Liberation Sans",sans-serif' font-weight="normal" font-style="normal" font-size="8.26" fill="#000" stroke="#000" stroke-width="0.20" >11</text>
<text transform="translate(38.87,79.11) scale(1.338,1)" font-family='"Liberation Serif",serif' font-weight="bold" font-style="normal" font-size="11.32" fill="#000" stroke="#000" stroke-width="0.30" >6.0</text>
<text transform="translate(61.94,79.28) scale(0.939,1)" font-family='"Liberation Serif",serif' font-weight="bold" font-style="normal" font-size="12.61" fill="#000" stroke="#000" stroke-width="0.40" >x</text>
<text transform="translate(72.95,79.17) scale(1.146,1)" font-family='"Liberation Serif",serif' font-weight="bold" font-style="normal" font-size="11.41" fill="#000" stroke="#000" stroke-width="0.35" >10</text>
<text transform="translate(84.32,71.08) scale(1.257,1)" font-family='"Liberation Sans",sans-serif' font-weight="normal" font-style="normal" font-size="8.26" fill="#000" stroke="#000" stroke-width="0.20" >11</text>
<text transform="translate(39.18,110.05) scale(1.315,1)" font-family='"Liberation Serif",serif' font-weight="bold" font-style="normal" font-size="11.32" fill="#000" stroke="#000" stroke-width="0.30" >4.0</text>
<text transform="translate(61.94,110.22) scale(0.939,1)" font-family='"Liberation Serif",serif' font-weight="bold" font-style="normal" font-size="12.61" fill="#000" stroke="#000" stroke-width="0.40" >x</text>
<text transform="translate(72.95,110.11) scale(1.146,1)" font-family='"Liberation Serif",serif' font-weight="bold" font-style="normal" font-size="11.41" fill="#000" stroke="#000" stroke-width="0.35" >10</text>
<text transform="translate(84.32,102.02) scale(1.257,1)" font-family='"Liberation Sans",sans-serif' font-weight="normal" font-style="normal" font-size="8.26" fill="#000" stroke="#000" stroke-width="0.20" >11</text>
<text transform="translate(38.79,140.99) scale(1.344,1)" font-family='"Liberation Serif",serif' font-weight="bold" font-style="normal" font-size="11.32" fill="#000" stroke="#000" stroke-width="0.30" >2.0</text>
<text transform="translate(61.94,141.16) scale(0.939,1)" font-family='"Liberation Serif",serif' font-weight="bold" font-style="normal" font-size="12.61" fill="#000" stroke="#000" stroke-width="0.40" >x</text>
<text transform="translate(72.95,141.05) scale(1.146,1)" font-family='"Liberation Serif",serif' font-weight="bold" font-style="normal" font-size="11.41" fill="#000" stroke="#000" stroke-width="0.35" >10</text>
<text transform="translate(84.32,132.96) scale(1.257,1)" font-family='"Liberation Sans",sans-serif' font-weight="normal" font-style="normal" font-size="8.26" fill="#000" stroke="#000" stroke-width="0.20" >11</text>
<text transform="translate(84.11,176.58) scale(1.388,1)" font-family='"Liberation Serif",serif' font-weight="bold" font-style="normal" font-size="12.09" fill="#000" stroke="#000" stroke-width="0.29" >6</text>
<text transform="translate(84.28,233.30) scale(1.323,1)" font-family='"Liberation Serif",serif' font-weight="bold" font-style="normal" font-size="11.21" fill="#000" stroke="#000" stroke-width="0.30" >4</text>
<text transform="translate(84.07,289.40) scale(1.365,1)" font-family='"Liberation Serif",serif' font-weight="bold" font-style="normal" font-size="11.52" fill="#000" stroke="#000" stroke-width="0.29" >2</text>
<text transform="translate(76.19,339.89) scale(1.371,1)" font-family='"Liberation Serif",serif' font-weight="bold" font-style="normal" font-size="11.04" fill="#000" stroke="#000" stroke-width="0.29" >15</text>
<text transform="translate(76.19,374.90) scale(1.348,1)" font-family='"Liberation Serif",serif' font-weight="bold" font-style="normal" font-size="11.21" fill="#000" stroke="#000" stroke-width="0.30" >12</text>
<text transform="translate(83.58,410.29) scale(1.523,1)" font-family='"Liberation Serif",serif' font-weight="bold" font-style="normal" font-size="11.04" fill="#000" stroke="#000" stroke-width="0.26" >9</text>
<text transform="translate(83.40,445.59) scale(1.540,1)" font-family='"Liberation Serif",serif' font-weight="bold" font-style="normal" font-size="11.04" fill="#000" stroke="#000" stroke-width="0.26" >6</text>
<text transform="translate(83.40,480.69) scale(1.517,1)" font-family='"Liberation Serif",serif' font-weight="bold" font-style="normal" font-size="11.34" fill="#000" stroke="#000" stroke-width="0.26" >3</text>
<text transform="translate(24.90,103.48) rotate(-90) scale(0.960,1.027)" font-family='"Liberation Serif",serif' font-style="italic" font-size="17.4" fill="#111" stroke="#111" stroke-width="0.35">n</text>
<text transform="translate(33.73,94.80) rotate(-90) scale(0.725,0.979)" font-family='"Liberation Serif",serif' font-style="normal" font-size="17.4" fill="#111" stroke="#111" stroke-width="0.35">0</text>
<text transform="translate(25.38,84.35) rotate(-90) scale(0.957,1.181)" font-family='"Liberation Serif",serif' font-style="normal" font-size="17.4" fill="#111" stroke="#111" stroke-width="0.35">(cm</text>
<text transform="translate(13.93,56.91) rotate(-90) scale(0.681,0.969)" font-family='"Liberation Serif",serif' font-style="normal" font-size="17.4" fill="#111" stroke="#111" stroke-width="0.35">-3</text>
<text transform="translate(25.38,46.67) rotate(-90) scale(1.282,1.181)" font-family='"Liberation Serif",serif' font-style="normal" font-size="17.4" fill="#111" stroke="#111" stroke-width="0.35">)</text>
<text transform="translate(54.20,267.85) rotate(-90) scale(1.014,1.211)" font-family='"Liberation Serif",serif' font-style="italic" font-size="17.4" fill="#111" stroke="#111" stroke-width="0.35">T</text>
<text transform="translate(62.54,258.62) rotate(-90) scale(0.746,0.898)" font-family='"Liberation Serif",serif' font-style="normal" font-size="17.4" fill="#111" stroke="#111" stroke-width="0.35">e</text>
<text transform="translate(54.14,249.99) rotate(-90) scale(1.014,1.112)" font-family='"Liberation Serif",serif' font-style="normal" font-size="17.4" fill="#111" stroke="#111" stroke-width="0.35">(eV)</text>
<text transform="translate(61.71,426.53) rotate(-90) scale(0.834,1.115)" font-family='"Liberation Serif",serif' font-style="italic" font-size="17.4" fill="#111" stroke="#111" stroke-width="0.35">V</text>
<text transform="translate(71.14,416.53) rotate(-90) scale(0.640,0.898)" font-family='"Liberation Serif",serif' font-style="italic" font-size="17.4" fill="#111" stroke="#111" stroke-width="0.35">p</text>
<text transform="translate(62.30,406.45) rotate(-90) scale(0.955,1.149)" font-family='"Liberation Serif",serif' font-style="normal" font-size="17.4" fill="#111" stroke="#111" stroke-width="0.35">(eV)</text>
<text transform="translate(213.12,410.20) scale(1.206,1)" font-family='"Liberation Sans",sans-serif' font-weight="normal" font-style="normal" font-size="13.19" fill="#3a4290" stroke="#3a4290" stroke-width="0.21" >&#916;</text>
<text transform="translate(225.83,410.20) scale(1.104,1)" font-family='"Liberation Sans",sans-serif' font-weight="normal" font-style="italic" font-size="15.65" fill="#3a4290" stroke="#3a4290" stroke-width="0.27" >V</text>
<text transform="translate(237.00,412.10) scale(1.200,1)" font-family='"Liberation Sans",sans-serif' font-weight="normal" font-style="italic" font-size="10.00" fill="#3a4290" stroke="#3a4290" stroke-width="0.25" >p</text>
<text transform="translate(249.48,410.87) scale(0.988,1)" font-family='"Liberation Sans",sans-serif' font-weight="normal" font-style="normal" font-size="18.40" fill="#3a4290" stroke="#3a4290" stroke-width="0.25" >~</text>
<text transform="translate(265.78,410.15) scale(1.205,1)" font-family='"Liberation Sans",sans-serif' font-weight="normal" font-style="normal" font-size="15.35" fill="#3a4290" stroke="#3a4290" stroke-width="0.21" >6</text>
<text transform="translate(275.63,410.30) scale(1.625,1)" font-family='"Liberation Sans",sans-serif' font-weight="normal" font-style="normal" font-size="16.19" fill="#3a4290" stroke="#3a4290" stroke-width="0.15" >.</text>
<text transform="translate(282.95,410.30) scale(0.786,1)" font-family='"Liberation Sans",sans-serif' font-weight="normal" font-style="normal" font-size="16.09" fill="#3a4290" stroke="#3a4290" stroke-width="0.25" >1</text>
<text transform="translate(298.54,410.00) scale(1.094,1)" font-family='"Liberation Sans",sans-serif' font-weight="normal" font-style="italic" font-size="15.65" fill="#3a4290" stroke="#3a4290" stroke-width="0.27" >V</text>
</svg></div>
</body></html>
